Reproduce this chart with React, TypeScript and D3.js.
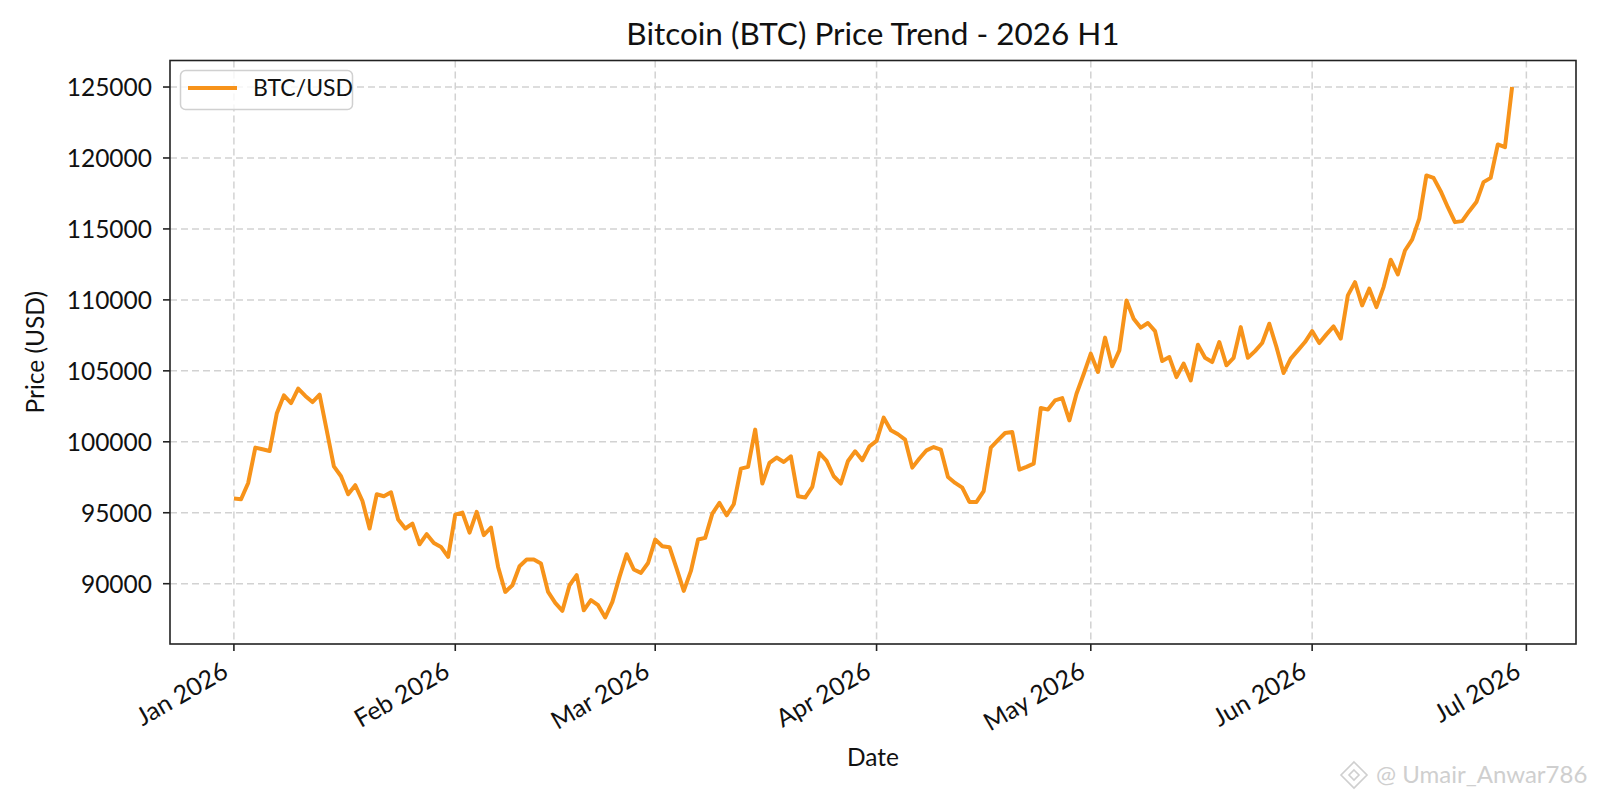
import React from 'react'
import * as d3 from 'd3'

// daily closing prices from 1 Jan 2026
const startDate = new Date(2026, 0, 1)
const prices: number[] = [
  96000, 95950, 97100, 99590, 99470, 99350, 101990, 103270, 102730, 103750,
  103230, 102800, 103320, 100810, 98270, 97570, 96300, 96940, 95830, 93890,
  96300, 96160, 96440, 94520, 93890, 94240, 92780, 93490, 92870, 92590,
  91890, 94870, 95010, 93600, 95060, 93420, 93960, 91180, 89420, 89890,
  91230, 91700, 91700, 91420, 89420, 88650, 88090, 89890, 90600, 88130,
  88840, 88490, 87620, 88720, 90480, 92080, 91000, 90760, 91460, 93110,
  92640, 92570, 91070, 89490, 90900, 93110, 93230, 94940, 95690, 94820,
  95600, 98110, 98230, 100860, 97060, 98510, 98890, 98580, 98980, 96160,
  96070, 96820, 99210, 98650, 97570, 97060, 98650, 99330, 98700, 99680,
  100060, 101700, 100810, 100530, 100150, 98180, 98820, 99400, 99630, 99450,
  97520, 97100, 96770, 95760, 95760, 96530, 99590, 100110, 100620, 100690,
  98040, 98230, 98460, 102380, 102270, 102920, 103080, 101510, 103390, 104760,
  106210, 104920, 107340, 105320, 106440, 109960, 108670, 108040, 108370, 107800,
  105690, 105970, 104560, 105510, 104330, 106840, 105920, 105620, 107030, 105390,
  105920, 108080, 105920, 106390, 106960, 108320, 106680, 104850, 105860, 106440,
  107030, 107800, 106960, 107570, 108130, 107270, 110320, 111250, 109610, 110790,
  109490, 110900, 112830, 111790, 113480, 114240, 115720, 118770, 118600, 117660,
  116530, 115480, 115550, 116250, 116890, 118300, 118600, 120950, 120760, 125000,
]

const yTickValues = [90000, 95000, 100000, 105000, 110000, 115000, 120000, 125000]
const monthTicks = [
  new Date(2026, 0, 1), new Date(2026, 1, 1), new Date(2026, 2, 1), new Date(2026, 3, 1),
  new Date(2026, 4, 1), new Date(2026, 5, 1), new Date(2026, 6, 1),
]
const monthLabels = ['Jan 2026', 'Feb 2026', 'Mar 2026', 'Apr 2026', 'May 2026', 'Jun 2026', 'Jul 2026']

const width = 1600
const height = 800
const margin = { top: 60.5, right: 24, bottom: 156, left: 170 }
const font = "Lato, 'Open Sans', sans-serif"
const lineColor = '#F7931A'

interface Point { date: Date; value: number }

export default function App() {
  const data: Point[] = prices.map((v, i) => ({ date: d3.timeDay.offset(startDate, i), value: v }))

  const innerW = width - margin.left - margin.right
  const innerH = height - margin.top - margin.bottom

  // matplotlib-like 5% margins on both axes
  const [x0, x1] = d3.extent(data, d => d.date) as [Date, Date]
  const xPad = (x1.getTime() - x0.getTime()) * 0.05
  const x = d3.scaleTime()
    .domain([new Date(x0.getTime() - xPad), new Date(x1.getTime() + xPad)])
    .range([margin.left, margin.left + innerW])

  const [y0, y1] = d3.extent(data, d => d.value) as [number, number]
  const yPad = (y1 - y0) * 0.05
  const y = d3.scaleLinear()
    .domain([y0 - yPad, y1 + yPad])
    .range([margin.top + innerH, margin.top])

  const line = d3.line<Point>()
    .x(d => x(d.date))
    .y(d => y(d.value))

  const bottom = margin.top + innerH
  const right = margin.left + innerW

  return (
    <div style={{ position: 'absolute', left: 0, top: 0 }}>
      <svg width={width} height={height} style={{ display: 'block', background: '#fff', fontFamily: font }}>
        {/* grid */}
        <g stroke="#c8c8c8" strokeWidth={1.5} strokeDasharray="7,4" opacity={0.8}>
          {monthTicks.map((t, i) => (
            <line key={'gx' + i} x1={x(t)} x2={x(t)} y1={margin.top} y2={bottom} />
          ))}
          {yTickValues.map((t, i) => (
            <line key={'gy' + i} x1={margin.left} x2={right} y1={y(t)} y2={y(t)} />
          ))}
        </g>

        {/* series */}
        <path d={line(data) || ''} fill="none" stroke={lineColor} strokeWidth={4} strokeLinejoin="round" />

        {/* frame */}
        <rect x={margin.left} y={margin.top} width={innerW} height={innerH} fill="none" stroke="#222" strokeWidth={1.6} />

        {/* y axis */}
        <g>
          {yTickValues.map((t, i) => (
            <g key={'yt' + i} transform={`translate(0,${y(t)})`}>
              <line x1={margin.left - 7} x2={margin.left} stroke="#222" strokeWidth={1.6} />
              <text x={margin.left - 18} dy="0.36em" textAnchor="end" fontSize={24.5} fill="#111">{d3.format('d')(t)}</text>
            </g>
          ))}
        </g>

        {/* x axis */}
        <g>
          {monthTicks.map((t, i) => (
            <g key={'xt' + i}>
              <line x1={x(t)} x2={x(t)} y1={bottom} y2={bottom + 7} stroke="#222" strokeWidth={1.6} />
              <text transform={`translate(${x(t) - 4},${bottom + 32}) rotate(-30)`} textAnchor="end" fontSize={25} fill="#111">
                {monthLabels[i]}
              </text>
            </g>
          ))}
        </g>

        {/* labels */}
        <text x={(margin.left + right) / 2} y={45} textAnchor="middle" fontSize={31.5} fill="#111">
          Bitcoin (BTC) Price Trend - 2026 H1
        </text>
        <text x={(margin.left + right) / 2} y={766} textAnchor="middle" fontSize={24.5} fill="#111">Date</text>
        <text transform={`translate(44,${(margin.top + bottom) / 2}) rotate(-90)`} textAnchor="middle" fontSize={24.5} fill="#111">
          Price (USD)
        </text>

        {/* legend */}
        <g>
          <rect x={180.5} y={70.5} width={172} height={39} rx={5} fill="#fff" fillOpacity={0.8} stroke="#d0d0d0" strokeWidth={1.5} />
          <line x1={188} x2={237} y1={88} y2={88} stroke={lineColor} strokeWidth={4} />
          <text x={253} y={96} fontSize={23} fill="#111">BTC/USD</text>
        </g>

        {/* watermark */}
        <g opacity={0.55} fill="none" stroke="#a8a8a8" strokeWidth={1.6}>
          <path d="M1354,762 L1367,775 L1354,788 L1341,775 Z" />
          <path d="M1354,770 L1359,775 L1354,780 L1349,775 Z" />
          <text x={1376} y={783} fontSize={24} fill="#a8a8a8" stroke="none">@ Umair_Anwar786</text>
        </g>
      </svg>
    </div>
  )
}
